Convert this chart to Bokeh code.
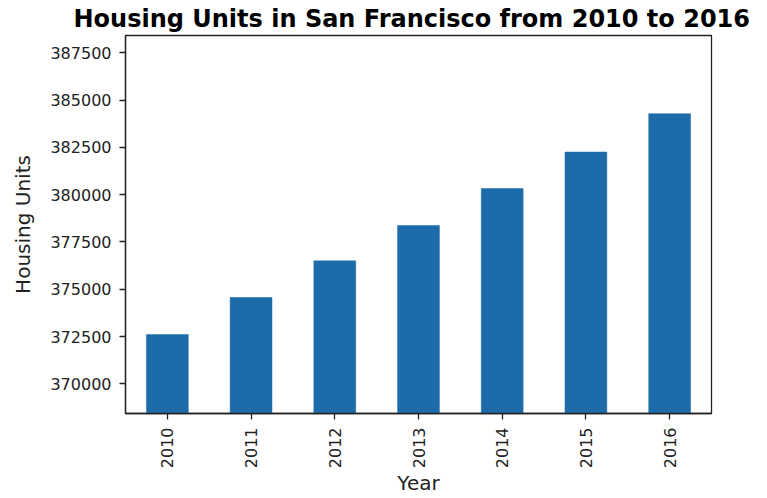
import math
from bokeh.plotting import figure
from bokeh.models import FixedTicker, BasicTickFormatter, Range1d
from bokeh.embed import file_html
from bokeh.resources import INLINE

years = ["2010", "2011", "2012", "2013", "2014", "2015", "2016"]
housing_units = [372600, 374560, 376500, 378370, 380320, 382250, 384280]
y_ticks = [370000, 372500, 375000, 377500, 380000, 382500, 385000, 387500]
y_min, y_max = 368430, 388410

p = figure(x_range=years, y_range=Range1d(y_min, y_max),
           width=767, height=498, output_backend="svg", toolbar_location=None,
           title="Housing Units in San Francisco from 2010 to 2016")
p.min_border_left = 125
p.min_border_right = 56
p.min_border_top = 33
p.min_border_bottom = 85

p.vbar(x=years, top=housing_units, bottom=y_min, width=0.5,
       fill_color="#1d6ca9", line_color="#1d6ca9", line_width=0.5)

p.title.text_font = "DejaVu Sans"
p.title.text_font_size = "24px"
p.title.text_font_style = "bold"
p.title.text_color = "black"
p.title.align = "left"
p.title.offset = -52
p.title.standoff = 5
p.title.text_line_height = 1.0

p.xgrid.visible = False
p.ygrid.visible = False
p.outline_line_color = "#222222"
p.outline_line_width = 1.3
p.outline_line_alpha = 1.0
p.background_fill_color = "white"
p.border_fill_color = "white"

for ax in (p.xaxis[0], p.yaxis[0]):
    ax.axis_line_color = "#222222"
    ax.axis_line_width = 1.3
    ax.major_tick_line_color = "#222222"
    ax.major_tick_line_width = 1.3
    ax.major_tick_out = 6
    ax.major_tick_in = 0
    ax.minor_tick_out = 0
    ax.minor_tick_in = 0
    ax.major_label_text_font = "DejaVu Sans"
    ax.major_label_text_font_size = "16px"
    ax.major_label_text_color = "#222222"
    ax.axis_label_text_font = "DejaVu Sans"
    ax.axis_label_text_font_size = "20px"
    ax.axis_label_text_font_style = "normal"
    ax.axis_label_text_color = "#222222"

p.yaxis.ticker = FixedTicker(ticks=y_ticks)
p.yaxis.formatter = BasicTickFormatter(use_scientific=False)
p.yaxis.major_label_standoff = 8
p.yaxis.axis_label = "Housing Units"
p.yaxis.axis_label_standoff = 12

p.xaxis.major_label_orientation = math.pi / 2
p.xaxis.major_label_standoff = 8
p.xaxis.axis_label = "Year"
p.xaxis.axis_label_standoff = 0
p.x_range.range_padding = 0

open("out.html", "w").write(file_html(p, INLINE))
